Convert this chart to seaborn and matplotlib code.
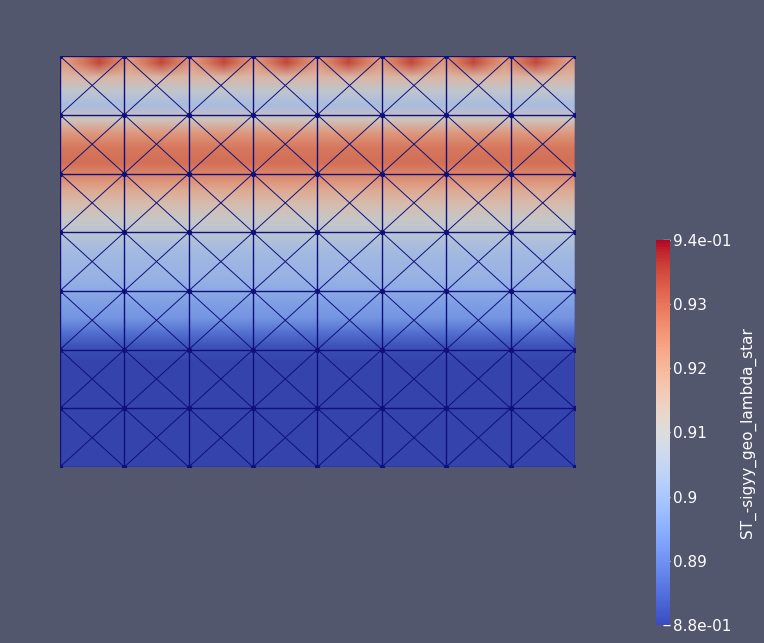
import numpy as np
import matplotlib
matplotlib.use("Agg")
import matplotlib.pyplot as plt
import seaborn as sns

sns.set_theme(style="white")
plt.rcParams['font.family'] = ['DejaVu Sans']

n_cols = 8
n_rows = 7
# field profile sampled top->bottom every quarter row
profile = [0.930, 0.916, 0.908, 0.903, 0.912,
           0.923, 0.928, 0.929, 0.925,
           0.919, 0.914, 0.910, 0.907,
           0.903, 0.901, 0.900, 0.898,
           0.895, 0.893, 0.887, 0.882,
           0.880, 0.880, 0.880, 0.880,
           0.880, 0.880, 0.880, 0.880]
# top-edge bump inside each cell (corner, quarter, centre)
top_edge = [0.922, 0.928, 0.934]
vmin, vmax = 0.88, 0.94
cbar_ticks = [0.94, 0.93, 0.92, 0.91, 0.90, 0.89, 0.88]
cbar_labels = ["9.4e-01", "0.93", "0.92", "0.91", "0.9", "0.89", "8.8e-01"]
field_name = "ST_-sigyy_geo_lambda_star"

bg = "#52576e"
fig = plt.figure(figsize=(7.64, 6.43), dpi=100, facecolor=bg)
ax = fig.add_axes([0.0785, 0.2737, 0.674, 0.639])
ax.set_facecolor(bg)

nx = n_cols * 4 + 1
grid = np.tile(np.array(profile)[:, None], (1, nx))
for j in range(nx):
    k = j % 4
    grid[0, j] = top_edge[2] if k == 2 else (top_edge[1] if k in (1, 3) else top_edge[0])
cmap = plt.get_cmap("coolwarm")
norm = plt.Normalize(vmin, vmax)
rgb = cmap(norm(grid))[..., :3] * 0.9
ax.imshow(rgb, interpolation="bilinear",
          extent=[0, n_cols, 0, n_rows], aspect="auto", origin="upper")

lc = "#10107a"
for i in range(n_cols + 1):
    ax.plot([i, i], [0, n_rows], color=lc, lw=1.0)
for j in range(n_rows + 1):
    ax.plot([0, n_cols], [j, j], color=lc, lw=1.0)
for i in range(n_cols):
    for j in range(n_rows):
        ax.plot([i, i + 1], [j, j + 1], color=lc, lw=0.7)
        ax.plot([i, i + 1], [j + 1, j], color=lc, lw=0.7)
xs, ys = np.meshgrid(np.arange(n_cols + 1), np.arange(n_rows + 1))
ax.scatter(xs.ravel(), ys.ravel(), s=8, color=lc, zorder=3)
ax.set_xlim(0, n_cols)
ax.set_ylim(0, n_rows)
ax.axis("off")

cax = fig.add_axes([0.8586, 0.028, 0.0183, 0.599])
sm = matplotlib.cm.ScalarMappable(cmap=cmap, norm=norm)
cb = fig.colorbar(sm, cax=cax)
cb.outline.set_visible(False)
cb.set_ticks(cbar_ticks)
cb.set_ticklabels(cbar_labels)
cax.tick_params(axis="y", colors="white", labelcolor="white", labelsize=11,
                length=5, width=1, direction="in", pad=2)
cb.set_label(field_name, color="white", fontsize=11, labelpad=6)

fig.savefig("out.png", dpi=100, facecolor=bg)
